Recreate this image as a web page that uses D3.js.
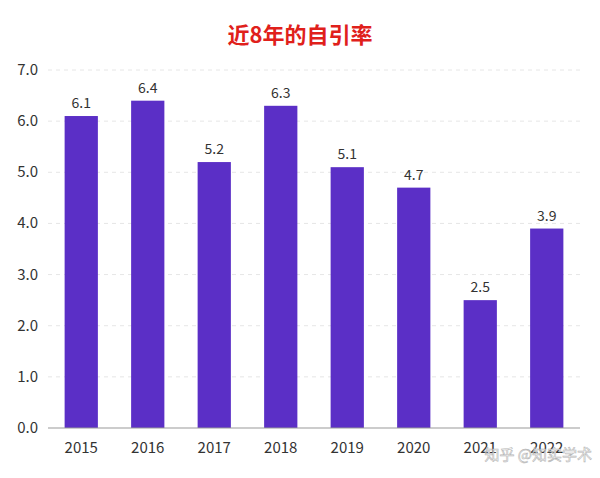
<!DOCTYPE html>
<html><head><meta charset="utf-8">
<script src="https://cdn.jsdelivr.net/npm/d3@7"></script>
<style>body{margin:0;background:#fff}</style></head>
<body><svg id="c" width="600" height="478"></svg>
<script>
const years=["2015","2016","2017","2018","2019","2020","2021","2022"];
const values=[6.1,6.4,5.2,6.3,5.1,4.7,2.5,3.9];
const yTicks=[0,1,2,3,4,5,6,7];
const svg=d3.select("#c");
const m={l:48,r:580,t:70,b:428};
const x=d3.scaleBand().domain(years).range([m.l,m.r]).paddingInner(0.5).paddingOuter(0.25);
const y=d3.scaleLinear().domain([0,7]).range([m.b,m.t]);
const font="'Noto Sans CJK SC','Noto Sans',sans-serif";
svg.append("text").attr("x",300).attr("y",43).attr("text-anchor","middle")
 .attr("font-family",font).attr("font-weight","bold").attr("font-size",22).attr("fill","#e0201b").text("近8年的自引率");
svg.selectAll(".g").data(yTicks.slice(1)).enter().append("line")
 .attr("x1",m.l).attr("x2",m.r).attr("y1",d=>y(d)).attr("y2",d=>y(d))
 .attr("stroke","#e6e6e6").attr("stroke-dasharray","4,4");
svg.selectAll(".yl").data(yTicks).enter().append("text")
 .attr("x",38).attr("y",d=>y(d)+5).attr("text-anchor","end")
 .attr("font-family",font).attr("font-size",15).attr("fill","#333").text(d=>d.toFixed(1));
svg.selectAll(".b").data(values).enter().append("rect")
 .attr("x",(d,i)=>x(years[i])).attr("width",x.bandwidth())
 .attr("y",d=>y(d)).attr("height",d=>y(0)-y(d)).attr("fill","#5b2fc6");
svg.selectAll(".v").data(values).enter().append("text")
 .attr("x",(d,i)=>x(years[i])+x.bandwidth()/2).attr("y",d=>y(d)-8).attr("text-anchor","middle")
 .attr("font-family",font).attr("font-size",14).attr("fill","#333").text(d=>d.toFixed(1));
svg.append("line").attr("x1",m.l).attr("x2",m.r).attr("y1",m.b).attr("y2",m.b).attr("stroke","#999");
svg.selectAll(".xl").data(years).enter().append("text")
 .attr("x",d=>x(d)+x.bandwidth()/2).attr("y",453).attr("text-anchor","middle")
 .attr("font-family",font).attr("font-size",15).attr("fill","#333").text(d=>d);
svg.append("text").attr("x",592).attr("y",460).attr("text-anchor","end")
 .attr("font-family",font).attr("font-size",15).attr("fill","#fff").attr("stroke","#aaa").attr("stroke-width",0.6)
 .attr("opacity",0.85).text("知乎 @知实学术");
</script></body></html>
